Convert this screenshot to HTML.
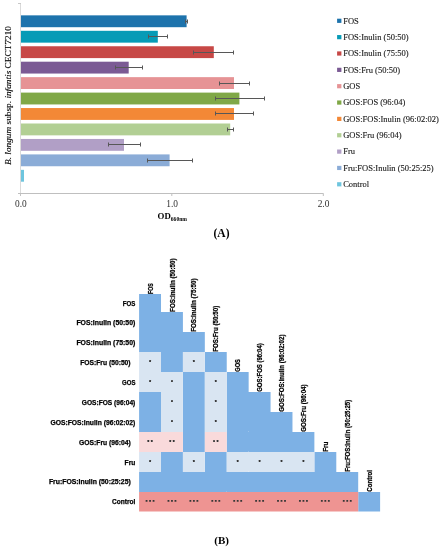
<!DOCTYPE html><html><head><meta charset="utf-8"><style>html,body{margin:0;padding:0;background:#fff;width:441px;height:550px;overflow:hidden}svg{display:block;will-change:transform}</style></head><body>
<svg width="441" height="550" viewBox="0 0 441 550">
<rect width="441" height="550" fill="#fff"/>
<line x1="20.5" y1="3.5" x2="20.5" y2="193" stroke="#dadada" stroke-width="1"/>
<line x1="20.5" y1="193" x2="20.5" y2="196" stroke="#c4c4c4" stroke-width="1"/>
<line x1="18" y1="3.5" x2="21.0" y2="3.5" stroke="#c8c8c8" stroke-width="1"/>
<line x1="18" y1="193.5" x2="323.5" y2="193.5" stroke="#bfbfbf" stroke-width="1"/>
<line x1="171.8" y1="193.5" x2="171.8" y2="196" stroke="#bfbfbf" stroke-width="1"/>
<line x1="323.3" y1="193.5" x2="323.3" y2="196" stroke="#bfbfbf" stroke-width="1"/>
<rect x="21.0" y="15.35" width="165.60" height="11.85" fill="#1D73AC"/>
<rect x="21.0" y="30.80" width="136.80" height="11.85" fill="#069BB6"/>
<rect x="21.0" y="46.25" width="192.80" height="11.85" fill="#C74846"/>
<rect x="21.0" y="61.70" width="107.70" height="11.85" fill="#7B5A94"/>
<rect x="21.0" y="77.15" width="213.00" height="11.85" fill="#E69395"/>
<rect x="21.0" y="92.60" width="218.40" height="11.85" fill="#80A847"/>
<rect x="21.0" y="108.05" width="213.00" height="11.85" fill="#F38836"/>
<rect x="21.0" y="123.50" width="209.20" height="11.85" fill="#B2CF94"/>
<rect x="21.0" y="138.95" width="103.00" height="11.85" fill="#B19FC6"/>
<rect x="21.0" y="154.40" width="148.60" height="11.85" fill="#8BACD7"/>
<rect x="21.0" y="169.85" width="3.00" height="11.85" fill="#6EC5DE"/>
<path d="M185.5 21.50H187.5M185.5 19.50V23.50M187.5 19.50V23.50" stroke="#575757" stroke-width="1" fill="none"/>
<path d="M148.5 36.50H167.5M148.5 34.50V38.50M167.5 34.50V38.50" stroke="#575757" stroke-width="1" fill="none"/>
<path d="M193.5 52.50H233.5M193.5 50.50V54.50M233.5 50.50V54.50" stroke="#575757" stroke-width="1" fill="none"/>
<path d="M115.5 67.50H142.5M115.5 65.50V69.50M142.5 65.50V69.50" stroke="#575757" stroke-width="1" fill="none"/>
<path d="M219.5 83.50H249.5M219.5 81.50V85.50M249.5 81.50V85.50" stroke="#575757" stroke-width="1" fill="none"/>
<path d="M215.5 98.50H264.5M215.5 96.50V100.50M264.5 96.50V100.50" stroke="#575757" stroke-width="1" fill="none"/>
<path d="M215.5 113.50H253.5M215.5 111.50V115.50M253.5 111.50V115.50" stroke="#575757" stroke-width="1" fill="none"/>
<path d="M227.5 129.50H233.5M227.5 127.50V131.50M233.5 127.50V131.50" stroke="#575757" stroke-width="1" fill="none"/>
<path d="M108.5 144.50H140.5M108.5 142.50V146.50M140.5 142.50V146.50" stroke="#575757" stroke-width="1" fill="none"/>
<path d="M147.5 160.50H192.5M147.5 158.50V162.50M192.5 158.50V162.50" stroke="#575757" stroke-width="1" fill="none"/>
<text x="20.8" y="206.6" style="font-family:'Liberation Serif',serif;font-size:9.4px" fill="#303030" text-anchor="middle">0.0</text>
<text x="172.2" y="206.6" style="font-family:'Liberation Serif',serif;font-size:9.4px" fill="#303030" text-anchor="middle">1.0</text>
<text x="323.5" y="206.6" style="font-family:'Liberation Serif',serif;font-size:9.4px" fill="#303030" text-anchor="middle">2.0</text>
<text x="157.6" y="218.8" style="font-family:'Liberation Serif',serif;font-size:8.8px;font-weight:bold" fill="#000">OD<tspan dy="1.8" style="font-size:5.6px">660nm</tspan></text>
<text transform="translate(11,165) rotate(-90)" style="font-family:'Liberation Serif',serif;font-size:8.5px" fill="#000" stroke="#000" stroke-width="0.12" textLength="139" lengthAdjust="spacingAndGlyphs"><tspan font-style="italic">B. longum</tspan> subsp. <tspan font-style="italic">infantis</tspan> CECT7210</text>
<rect x="337.1" y="18.70" width="4.3" height="4.2" fill="#1D73AC"/>
<text x="343.2" y="23.60" style="font-family:'Liberation Serif',serif;font-size:8.5px" fill="#1a1a1a" stroke="#1a1a1a" stroke-width="0.12">FOS</text>
<rect x="337.1" y="35.05" width="4.3" height="4.2" fill="#069BB6"/>
<text x="343.2" y="39.95" style="font-family:'Liberation Serif',serif;font-size:8.5px" fill="#1a1a1a" stroke="#1a1a1a" stroke-width="0.12">FOS:Inulin (50:50)</text>
<rect x="337.1" y="51.40" width="4.3" height="4.2" fill="#C74846"/>
<text x="343.2" y="56.30" style="font-family:'Liberation Serif',serif;font-size:8.5px" fill="#1a1a1a" stroke="#1a1a1a" stroke-width="0.12">FOS:Inulin (75:50)</text>
<rect x="337.1" y="67.75" width="4.3" height="4.2" fill="#7B5A94"/>
<text x="343.2" y="72.65" style="font-family:'Liberation Serif',serif;font-size:8.5px" fill="#1a1a1a" stroke="#1a1a1a" stroke-width="0.12">FOS:Fru (50:50)</text>
<rect x="337.1" y="84.10" width="4.3" height="4.2" fill="#E69395"/>
<text x="343.2" y="89.00" style="font-family:'Liberation Serif',serif;font-size:8.5px" fill="#1a1a1a" stroke="#1a1a1a" stroke-width="0.12">GOS</text>
<rect x="337.1" y="100.45" width="4.3" height="4.2" fill="#80A847"/>
<text x="343.2" y="105.35" style="font-family:'Liberation Serif',serif;font-size:8.5px" fill="#1a1a1a" stroke="#1a1a1a" stroke-width="0.12">GOS:FOS (96:04)</text>
<rect x="337.1" y="116.80" width="4.3" height="4.2" fill="#F38836"/>
<text x="343.2" y="121.70" style="font-family:'Liberation Serif',serif;font-size:8.5px" fill="#1a1a1a" stroke="#1a1a1a" stroke-width="0.12">GOS:FOS:Inulin (96:02:02)</text>
<rect x="337.1" y="133.15" width="4.3" height="4.2" fill="#B2CF94"/>
<text x="343.2" y="138.05" style="font-family:'Liberation Serif',serif;font-size:8.5px" fill="#1a1a1a" stroke="#1a1a1a" stroke-width="0.12">GOS:Fru (96:04)</text>
<rect x="337.1" y="149.50" width="4.3" height="4.2" fill="#B19FC6"/>
<text x="343.2" y="154.40" style="font-family:'Liberation Serif',serif;font-size:8.5px" fill="#1a1a1a" stroke="#1a1a1a" stroke-width="0.12">Fru</text>
<rect x="337.1" y="165.85" width="4.3" height="4.2" fill="#8BACD7"/>
<text x="343.2" y="170.75" style="font-family:'Liberation Serif',serif;font-size:8.5px" fill="#1a1a1a" stroke="#1a1a1a" stroke-width="0.12">Fru:FOS:Inulin (50:25:25)</text>
<rect x="337.1" y="182.20" width="4.3" height="4.2" fill="#6EC5DE"/>
<text x="343.2" y="187.10" style="font-family:'Liberation Serif',serif;font-size:8.5px" fill="#1a1a1a" stroke="#1a1a1a" stroke-width="0.12">Control</text>
<text x="221.5" y="237.2" style="font-family:'Liberation Serif',serif;font-size:11.5px;font-weight:bold" fill="#000" text-anchor="middle">(A)</text>
<text x="221.6" y="543.8" style="font-family:'Liberation Serif',serif;font-size:11px;font-weight:bold" fill="#000" text-anchor="middle">(B)</text>
<path d="M139.10 294.10H161.01V312.10H139.10ZM139.10 312.10H161.01V332.00H139.10ZM161.01 312.10H182.92V332.00H161.01ZM139.10 332.00H161.01V352.00H139.10ZM161.01 332.00H182.92V352.00H161.01ZM182.92 332.00H204.83V352.00H182.92ZM161.01 352.00H182.92V372.00H161.01ZM204.83 352.00H226.74V372.00H204.83ZM182.92 372.00H204.83V392.00H182.92ZM226.74 372.00H248.65V392.00H226.74ZM139.10 392.00H161.01V412.00H139.10ZM182.92 392.00H204.83V412.00H182.92ZM226.74 392.00H248.65V412.00H226.74ZM248.65 392.00H270.56V412.00H248.65ZM139.10 412.00H161.01V432.00H139.10ZM182.92 412.00H204.83V432.00H182.92ZM226.74 412.00H248.65V432.00H226.74ZM248.65 412.00H270.56V432.00H248.65ZM270.56 412.00H292.47V432.00H270.56ZM182.92 432.00H204.83V452.00H182.92ZM226.74 432.00H248.65V452.00H226.74ZM248.65 432.00H270.56V452.00H248.65ZM270.56 432.00H292.47V452.00H270.56ZM292.47 432.00H314.38V452.00H292.47ZM161.01 452.00H182.92V472.00H161.01ZM204.83 452.00H226.74V472.00H204.83ZM314.38 452.00H336.29V472.00H314.38ZM139.10 472.00H161.01V491.90H139.10ZM161.01 472.00H182.92V491.90H161.01ZM182.92 472.00H204.83V491.90H182.92ZM204.83 472.00H226.74V491.90H204.83ZM226.74 472.00H248.65V491.90H226.74ZM248.65 472.00H270.56V491.90H248.65ZM270.56 472.00H292.47V491.90H270.56ZM292.47 472.00H314.38V491.90H292.47ZM314.38 472.00H336.29V491.90H314.38ZM336.29 472.00H358.20V491.90H336.29ZM358.20 491.90H380.11V511.40H358.20Z" fill="#7DB1E5"/>
<path d="M139.10 352.00H161.01V372.00H139.10ZM182.92 352.00H204.83V372.00H182.92ZM139.10 372.00H161.01V392.00H139.10ZM161.01 372.00H182.92V392.00H161.01ZM204.83 372.00H226.74V392.00H204.83ZM161.01 392.00H182.92V412.00H161.01ZM204.83 392.00H226.74V412.00H204.83ZM161.01 412.00H182.92V432.00H161.01ZM204.83 412.00H226.74V432.00H204.83ZM139.10 452.00H161.01V472.00H139.10ZM182.92 452.00H204.83V472.00H182.92ZM226.74 452.00H248.65V472.00H226.74ZM248.65 452.00H270.56V472.00H248.65ZM270.56 452.00H292.47V472.00H270.56ZM292.47 452.00H314.38V472.00H292.47Z" fill="#D9E5F2"/>
<path d="M139.10 432.00H161.01V452.00H139.10ZM161.01 432.00H182.92V452.00H161.01ZM204.83 432.00H226.74V452.00H204.83Z" fill="#F9DADB"/>
<path d="M139.10 491.90H161.01V511.40H139.10ZM161.01 491.90H182.92V511.40H161.01ZM182.92 491.90H204.83V511.40H182.92ZM204.83 491.90H226.74V511.40H204.83ZM226.74 491.90H248.65V511.40H226.74ZM248.65 491.90H270.56V511.40H248.65ZM270.56 491.90H292.47V511.40H270.56ZM292.47 491.90H314.38V511.40H292.47ZM314.38 491.90H336.29V511.40H314.38ZM336.29 491.90H358.20V511.40H336.29Z" fill="#EE9492"/>
<rect x="149.11" y="360.05" width="1.9" height="1.9" rx="0.4" fill="#363636"/>
<rect x="192.93" y="360.05" width="1.9" height="1.9" rx="0.4" fill="#363636"/>
<rect x="149.11" y="380.05" width="1.9" height="1.9" rx="0.4" fill="#363636"/>
<rect x="171.01" y="380.05" width="1.9" height="1.9" rx="0.4" fill="#363636"/>
<rect x="214.84" y="380.05" width="1.9" height="1.9" rx="0.4" fill="#363636"/>
<rect x="171.01" y="400.05" width="1.9" height="1.9" rx="0.4" fill="#363636"/>
<rect x="214.84" y="400.05" width="1.9" height="1.9" rx="0.4" fill="#363636"/>
<rect x="171.01" y="420.05" width="1.9" height="1.9" rx="0.4" fill="#363636"/>
<rect x="214.84" y="420.05" width="1.9" height="1.9" rx="0.4" fill="#363636"/>
<rect x="147.36" y="440.05" width="1.9" height="1.9" rx="0.4" fill="#363636"/>
<rect x="150.86" y="440.05" width="1.9" height="1.9" rx="0.4" fill="#363636"/>
<rect x="169.26" y="440.05" width="1.9" height="1.9" rx="0.4" fill="#363636"/>
<rect x="172.76" y="440.05" width="1.9" height="1.9" rx="0.4" fill="#363636"/>
<rect x="213.09" y="440.05" width="1.9" height="1.9" rx="0.4" fill="#363636"/>
<rect x="216.59" y="440.05" width="1.9" height="1.9" rx="0.4" fill="#363636"/>
<rect x="149.11" y="460.05" width="1.9" height="1.9" rx="0.4" fill="#363636"/>
<rect x="192.93" y="460.05" width="1.9" height="1.9" rx="0.4" fill="#363636"/>
<rect x="236.75" y="460.05" width="1.9" height="1.9" rx="0.4" fill="#363636"/>
<rect x="258.66" y="460.05" width="1.9" height="1.9" rx="0.4" fill="#363636"/>
<rect x="280.56" y="460.05" width="1.9" height="1.9" rx="0.4" fill="#363636"/>
<rect x="302.48" y="460.05" width="1.9" height="1.9" rx="0.4" fill="#363636"/>
<rect x="145.61" y="499.95" width="1.9" height="1.9" rx="0.4" fill="#363636"/>
<rect x="149.11" y="499.95" width="1.9" height="1.9" rx="0.4" fill="#363636"/>
<rect x="152.61" y="499.95" width="1.9" height="1.9" rx="0.4" fill="#363636"/>
<rect x="167.51" y="499.95" width="1.9" height="1.9" rx="0.4" fill="#363636"/>
<rect x="171.01" y="499.95" width="1.9" height="1.9" rx="0.4" fill="#363636"/>
<rect x="174.51" y="499.95" width="1.9" height="1.9" rx="0.4" fill="#363636"/>
<rect x="189.43" y="499.95" width="1.9" height="1.9" rx="0.4" fill="#363636"/>
<rect x="192.93" y="499.95" width="1.9" height="1.9" rx="0.4" fill="#363636"/>
<rect x="196.43" y="499.95" width="1.9" height="1.9" rx="0.4" fill="#363636"/>
<rect x="211.34" y="499.95" width="1.9" height="1.9" rx="0.4" fill="#363636"/>
<rect x="214.84" y="499.95" width="1.9" height="1.9" rx="0.4" fill="#363636"/>
<rect x="218.34" y="499.95" width="1.9" height="1.9" rx="0.4" fill="#363636"/>
<rect x="233.25" y="499.95" width="1.9" height="1.9" rx="0.4" fill="#363636"/>
<rect x="236.75" y="499.95" width="1.9" height="1.9" rx="0.4" fill="#363636"/>
<rect x="240.25" y="499.95" width="1.9" height="1.9" rx="0.4" fill="#363636"/>
<rect x="255.16" y="499.95" width="1.9" height="1.9" rx="0.4" fill="#363636"/>
<rect x="258.66" y="499.95" width="1.9" height="1.9" rx="0.4" fill="#363636"/>
<rect x="262.16" y="499.95" width="1.9" height="1.9" rx="0.4" fill="#363636"/>
<rect x="277.06" y="499.95" width="1.9" height="1.9" rx="0.4" fill="#363636"/>
<rect x="280.56" y="499.95" width="1.9" height="1.9" rx="0.4" fill="#363636"/>
<rect x="284.06" y="499.95" width="1.9" height="1.9" rx="0.4" fill="#363636"/>
<rect x="298.98" y="499.95" width="1.9" height="1.9" rx="0.4" fill="#363636"/>
<rect x="302.48" y="499.95" width="1.9" height="1.9" rx="0.4" fill="#363636"/>
<rect x="305.98" y="499.95" width="1.9" height="1.9" rx="0.4" fill="#363636"/>
<rect x="320.88" y="499.95" width="1.9" height="1.9" rx="0.4" fill="#363636"/>
<rect x="324.38" y="499.95" width="1.9" height="1.9" rx="0.4" fill="#363636"/>
<rect x="327.88" y="499.95" width="1.9" height="1.9" rx="0.4" fill="#363636"/>
<rect x="342.80" y="499.95" width="1.9" height="1.9" rx="0.4" fill="#363636"/>
<rect x="346.30" y="499.95" width="1.9" height="1.9" rx="0.4" fill="#363636"/>
<rect x="349.80" y="499.95" width="1.9" height="1.9" rx="0.4" fill="#363636"/>
<text x="135.4" y="305.60" style="font-family:'Liberation Sans',sans-serif;font-weight:bold;font-size:6.8px" fill="#000" stroke="#000" stroke-width="0.25" text-anchor="end" textLength="12.6" lengthAdjust="spacingAndGlyphs">FOS</text>
<text x="135.3" y="324.55" style="font-family:'Liberation Sans',sans-serif;font-weight:bold;font-size:6.8px" fill="#000" stroke="#000" stroke-width="0.25" text-anchor="end" textLength="58.9" lengthAdjust="spacingAndGlyphs">FOS:Inulin (50:50)</text>
<text x="135.3" y="344.50" style="font-family:'Liberation Sans',sans-serif;font-weight:bold;font-size:6.8px" fill="#000" stroke="#000" stroke-width="0.25" text-anchor="end" textLength="58.9" lengthAdjust="spacingAndGlyphs">FOS:Inulin (75:50)</text>
<text x="130.60000000000002" y="364.50" style="font-family:'Liberation Sans',sans-serif;font-weight:bold;font-size:6.8px" fill="#000" stroke="#000" stroke-width="0.25" text-anchor="end" textLength="50.4" lengthAdjust="spacingAndGlyphs">FOS:Fru (50:50)</text>
<text x="135.5" y="384.50" style="font-family:'Liberation Sans',sans-serif;font-weight:bold;font-size:6.8px" fill="#000" stroke="#000" stroke-width="0.25" text-anchor="end" textLength="13.4" lengthAdjust="spacingAndGlyphs">GOS</text>
<text x="135.3" y="404.50" style="font-family:'Liberation Sans',sans-serif;font-weight:bold;font-size:6.8px" fill="#000" stroke="#000" stroke-width="0.25" text-anchor="end" textLength="53.5" lengthAdjust="spacingAndGlyphs">GOS:FOS (96:04)</text>
<text x="135.3" y="424.50" style="font-family:'Liberation Sans',sans-serif;font-weight:bold;font-size:6.8px" fill="#000" stroke="#000" stroke-width="0.25" text-anchor="end" textLength="84.89999999999999" lengthAdjust="spacingAndGlyphs">GOS:FOS:Inulin (96:02:02)</text>
<text x="130.70000000000002" y="444.50" style="font-family:'Liberation Sans',sans-serif;font-weight:bold;font-size:6.8px" fill="#000" stroke="#000" stroke-width="0.25" text-anchor="end" textLength="51.6" lengthAdjust="spacingAndGlyphs">GOS:Fru (96:04)</text>
<text x="135.3" y="464.50" style="font-family:'Liberation Sans',sans-serif;font-weight:bold;font-size:6.8px" fill="#000" stroke="#000" stroke-width="0.25" text-anchor="end" textLength="10.7" lengthAdjust="spacingAndGlyphs">Fru</text>
<text x="130.8" y="484.45" style="font-family:'Liberation Sans',sans-serif;font-weight:bold;font-size:6.8px" fill="#000" stroke="#000" stroke-width="0.25" text-anchor="end" textLength="81.89999999999999" lengthAdjust="spacingAndGlyphs">Fru:FOS:Inulin (50:25:25)</text>
<text x="135.3" y="504.15" style="font-family:'Liberation Sans',sans-serif;font-weight:bold;font-size:6.8px" fill="#000" stroke="#000" stroke-width="0.25" text-anchor="end" textLength="23.3" lengthAdjust="spacingAndGlyphs">Control</text>
<text transform="translate(152.66,293.90) rotate(-90)" style="font-family:'Liberation Sans',sans-serif;font-weight:bold;font-size:6.5px" fill="#000" stroke="#000" stroke-width="0.25" textLength="10.7" lengthAdjust="spacingAndGlyphs">FOS</text>
<text transform="translate(174.56,311.90) rotate(-90)" style="font-family:'Liberation Sans',sans-serif;font-weight:bold;font-size:6.5px" fill="#000" stroke="#000" stroke-width="0.25" textLength="53.5" lengthAdjust="spacingAndGlyphs">FOS:Inulin (50:50)</text>
<text transform="translate(196.47,331.80) rotate(-90)" style="font-family:'Liberation Sans',sans-serif;font-weight:bold;font-size:6.5px" fill="#000" stroke="#000" stroke-width="0.25" textLength="53.4" lengthAdjust="spacingAndGlyphs">FOS:Inulin (75:50)</text>
<text transform="translate(218.38,351.80) rotate(-90)" style="font-family:'Liberation Sans',sans-serif;font-weight:bold;font-size:6.5px" fill="#000" stroke="#000" stroke-width="0.25" textLength="46.0" lengthAdjust="spacingAndGlyphs">FOS:Fru (50:50)</text>
<text transform="translate(240.29,371.80) rotate(-90)" style="font-family:'Liberation Sans',sans-serif;font-weight:bold;font-size:6.5px" fill="#000" stroke="#000" stroke-width="0.25" textLength="12.7" lengthAdjust="spacingAndGlyphs">GOS</text>
<text transform="translate(262.21,391.80) rotate(-90)" style="font-family:'Liberation Sans',sans-serif;font-weight:bold;font-size:6.5px" fill="#000" stroke="#000" stroke-width="0.25" textLength="48.5" lengthAdjust="spacingAndGlyphs">GOS:FOS (96:04)</text>
<text transform="translate(284.12,411.80) rotate(-90)" style="font-family:'Liberation Sans',sans-serif;font-weight:bold;font-size:6.5px" fill="#000" stroke="#000" stroke-width="0.25" textLength="77.3" lengthAdjust="spacingAndGlyphs">GOS:FOS:Inulin (96:02:02)</text>
<text transform="translate(306.03,431.80) rotate(-90)" style="font-family:'Liberation Sans',sans-serif;font-weight:bold;font-size:6.5px" fill="#000" stroke="#000" stroke-width="0.25" textLength="47.4" lengthAdjust="spacingAndGlyphs">GOS:Fru (96:04)</text>
<text transform="translate(327.94,451.80) rotate(-90)" style="font-family:'Liberation Sans',sans-serif;font-weight:bold;font-size:6.5px" fill="#000" stroke="#000" stroke-width="0.25" textLength="10.3" lengthAdjust="spacingAndGlyphs">Fru</text>
<text transform="translate(349.85,471.80) rotate(-90)" style="font-family:'Liberation Sans',sans-serif;font-weight:bold;font-size:6.5px" fill="#000" stroke="#000" stroke-width="0.25" textLength="72.0" lengthAdjust="spacingAndGlyphs">Fru:FOS:Inulin (50:25:25)</text>
<text transform="translate(371.75,491.70) rotate(-90)" style="font-family:'Liberation Sans',sans-serif;font-weight:bold;font-size:6.5px" fill="#000" stroke="#000" stroke-width="0.25" textLength="21.7" lengthAdjust="spacingAndGlyphs">Control</text>
</svg></body></html>
